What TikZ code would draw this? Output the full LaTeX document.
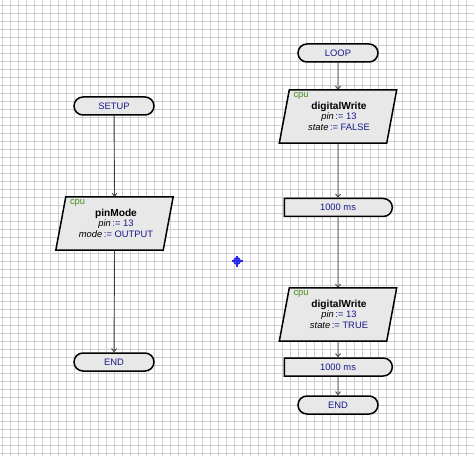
\documentclass[tikz,border=0pt]{standalone}
\usepackage{fontspec}
\setmainfont{Liberation Sans}
\usetikzlibrary{shapes.misc,arrows.meta}
\definecolor{navy}{RGB}{25,25,140}
\definecolor{cpugreen}{RGB}{70,140,30}
\definecolor{fillg}{RGB}{232,232,232}
\definecolor{gridc}{RGB}{205,205,205}
\definecolor{crossc}{RGB}{40,40,230}
\begin{document}
\begin{tikzpicture}[x=1bp,y=-1bp,
  every node/.style={font=\fontsize{9.4}{10.5}\selectfont},
  term/.style={rounded rectangle, draw=black, line width=1.5bp, fill=fillg,
    minimum width=80bp, minimum height=18bp, inner sep=0pt, text=navy},
  delaybox/.style={rounded rectangle, rounded rectangle left arc=none, draw=black,
    line width=1.5bp, fill=fillg, minimum width=108bp, minimum height=18bp,
    inner sep=0pt, text=navy},
  iobox/.style={minimum width=107bp, minimum height=53bp, inner sep=0pt},
  iodraw/.style={draw=black, line width=1.5bp, fill=fillg},
  cpulabel/.style={anchor=west, text=cpugreen, inner sep=0pt},
  body/.style={align=center, inner sep=0pt},
  conn/.style={draw=black!75, line width=0.9bp, -{Straight Barb[length=3bp,width=5bp]}}
]
\newcommand{\ttl}[1]{{\fontsize{10.2}{10.5}\selectfont\bfseries #1}}
\useasboundingbox (0,0) rectangle (474,456);
\fill[white] (0,0) rectangle (474,456);
\foreach \x in {2,10,...,474} \draw[gridc, line width=0.7bp] (\x,0) -- (\x,456);
\foreach \y in {5,13,...,456} \draw[gridc, line width=0.7bp] (0,\y) -- (474,\y);

% crosshair
\coordinate (origin) at (237,261);
\draw[crossc, line width=1.8bp] (origin) circle (3bp);
\draw[crossc, line width=1.2bp] ([xshift=-5.5bp]origin) -- ([xshift=5.5bp]origin);
\draw[crossc, line width=1.2bp] ([yshift=-5.5bp]origin) -- ([yshift=5.5bp]origin);

% left column
\node[term] (setup) at (114,106) {SETUP};
\node[iobox] (pm) at (114.5,223.5) {};
\node[term] (endl) at (114,362) {END};

% right column
\node[term] (loop) at (338,53) {LOOP};
\node[iobox] (dw1) at (338,116.5) {};
\node[delaybox] (d1) at (338,207.5) {1000 ms};
\node[iobox] (dw2) at (338,314.5) {};
\node[delaybox] (d2) at (338,367) {1000 ms};
\node[term] (endr) at (338,405) {END};

% connectors
\draw[conn] (setup) -- (pm.north);
\draw[conn] (pm.south) -- (endl);
\draw[conn] (loop) -- (dw1.north);
\draw[conn] (dw1.south) -- (d1);
\draw[conn] (d1) -- (dw2.north);
\draw[conn] (dw2.south) -- (d2);
\draw[conn] (d2) -- (endr);

% parallelograms
\foreach \n in {pm,dw1,dw2}{
  \draw[iodraw] ([xshift=5bp]\n.north west) -- ([xshift=5bp]\n.north east)
    -- ([xshift=-5bp]\n.south east) -- ([xshift=-5bp]\n.south west) -- cycle;
  \node[cpulabel] (\n cpu) at ([xshift=9bp,yshift=-6.5bp]\n.north west) {cpu};
}
\node[body] (pmtext) at ([xshift=1.5bp,yshift=0.5bp]pm.center)
  {\ttl{pinMode}\\ \textit{pin}\,{\color{navy}:= 13}\\ \textit{mode}\,{\color{navy}:= OUTPUT}};
\node[body] (dw1text) at ([xshift=1bp,yshift=0.5bp]dw1.center)
  {\ttl{digitalWrite}\\ \textit{pin}\,{\color{navy}:= 13}\\ \textit{state}\,{\color{navy}:= FALSE}};
\node[body] (dw2text) at ([xshift=1bp,yshift=0.5bp]dw2.center)
  {\ttl{digitalWrite}\\ \textit{pin}\,{\color{navy}:= 13}\\ \textit{state}\,{\color{navy}:= TRUE}};
\end{tikzpicture}
\end{document}
